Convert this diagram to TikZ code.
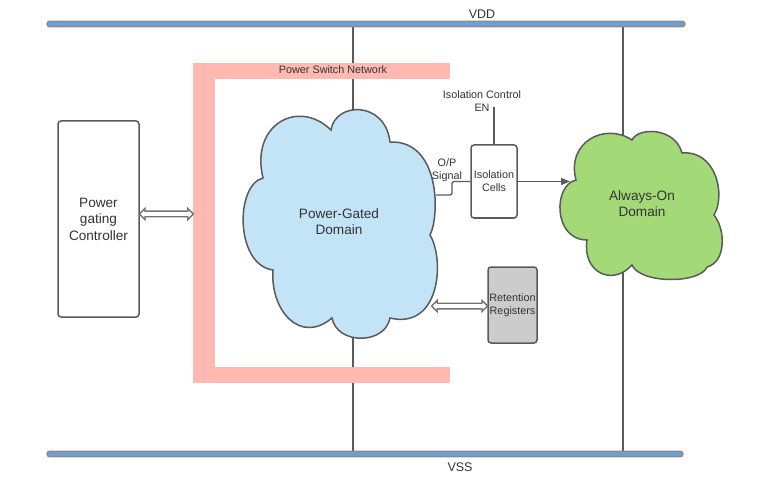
\documentclass[tikz,border=0pt]{standalone}
\usepackage{fontspec}
\setmainfont{Liberation Sans}
\usetikzlibrary{shapes.arrows,arrows.meta,calc}
\definecolor{wirec}{HTML}{5A5A5A}
\definecolor{railfill}{HTML}{6E9FD4}
\definecolor{railedge}{HTML}{8A8A8A}
\definecolor{pinkc}{HTML}{FFB9B1}
\definecolor{bluec}{HTML}{C3E3F6}
\definecolor{greenc}{HTML}{A3D977}
\definecolor{grayc}{HTML}{CCCCCC}
\definecolor{txtc}{HTML}{333333}
\newcommand\fntbig{\fontsize{13.6}{16.4}\selectfont}
\newcommand\fntmid{\fontsize{12.5}{15}\selectfont}
\newcommand\fntsmall{\fontsize{10.8}{13.2}\selectfont}
\pgfdeclarelayer{bg}
\pgfsetlayers{bg,main}
\begin{document}
\begin{tikzpicture}[x=1pt,y=-1pt,
  wire/.style={draw=wirec, line width=1.3pt},
  boxst/.style={draw=wirec, line width=1.5pt, rounded corners=3pt, fill=white, text=txtc, align=center, inner sep=0pt},
  cloudline/.style={draw=wirec, line width=1.5pt},
  dbl/.style={double arrow, draw=wirec!85, fill=white, line width=1.3pt, inner xsep=0pt, inner ysep=2.2pt, minimum width=0pt, double arrow head extend=2.8pt, double arrow head indent=0pt},
  lbl/.style={text=txtc, align=center, inner sep=0pt},
  rail/.style={draw=railedge, fill=railfill, line width=1.2pt, rounded corners=2.5pt, minimum height=5.5pt, inner sep=0pt}]
\useasboundingbox (0,0) rectangle (768,481);

% rails
\node[rail, minimum width=638pt] (vdd) at (366,24) {};
\node[rail, minimum width=636pt] (vss) at (365,454) {};
\node[lbl, font=\fntmid] (vddl) at (482,14) {VDD};
\node[lbl, font=\fntmid] (vssl) at (460,467) {VSS};

\coordinate (cx1) at (353,240);
\coordinate (cx2) at (623,240);

\begin{pgfonlayer}{bg}
  \draw[wire] (vdd.center -| cx1) -- (vss.center -| cx1);
  \draw[wire] (vdd.center -| cx2) -- (vss.center -| cx2);
  % power-gated domain cloud
  \draw[cloudline, fill=bluec] (263,178) .. controls (250,125) and (298,98) .. (331,130)
    .. controls (335,102) and (385,100) .. (390,142)
    .. controls (440,140) and (440,215) .. (430,235)
    .. controls (445,260) and (440,330) .. (390,318)
    .. controls (385,345) and (337,345) .. (332,318)
    .. controls (300,345) and (270,310) .. (273,270)
    .. controls (235,265) and (235,185) .. (263,178) -- cycle;
  % always-on domain cloud
  \draw[cloudline, fill=greenc] (576,180) .. controls (566,142) and (605,122) .. (632,140)
    .. controls (638,127) and (675,127) .. (682,153)
    .. controls (716,150) and (726,195) .. (714,215)
    .. controls (726,230) and (726,262) .. (707,267)
    .. controls (700,284) and (640,284) .. (632,265)
    .. controls (612,287) and (582,272) .. (587,240)
    .. controls (553,240) and (553,185) .. (576,180) -- cycle;
  % power switch network
  \fill[pinkc] (193,63) rectangle (450,79);
  \fill[pinkc] (193,63) rectangle (215,383);
  \fill[pinkc] (193,367) rectangle (450,383);
\end{pgfonlayer}

\node[lbl, font=\fntsmall] (psn) at (333,70) {Power Switch Network};
\node[lbl, font=\fntbig] (pgd) at (339,221.5) {Power-Gated\\Domain};
\node[lbl, font=\fntbig] (aod) at (642,203.5) {Always-On\\Domain};

% boxes
\node[boxst, font=\fntbig, minimum width=81pt, minimum height=196pt] (pgc) at (98.5,219) {Power\\gating\\Controller};
\node[boxst, font=\fntsmall, minimum width=46pt, minimum height=73pt] (iso) at (494,181.5) {Isolation\\Cells};
\node[boxst, font=\fntsmall, fill=grayc, minimum width=49pt, minimum height=76pt] (ret) at (512.5,305) {Retention\\Registers};

% labels
\node[lbl, font=\fntsmall] (isoctl) at (482,101) {Isolation Control\\EN};
\node[lbl, font=\fntsmall] (ops) at (447,170) {O/P\\Signal};

% connectors
\coordinate (en) at (494,107);
\draw[wire] (iso.north) -- (iso.north |- en);
\coordinate (pgdop) at (436,195);
\draw[wire, rounded corners=2pt] (pgdop) -- ++(16,0) |- (iso.west);
\coordinate (aodin) at (570,182);
\draw[wire, -{Triangle[length=9pt,width=7pt]}] (iso.east) -- (iso.east -| aodin);

\coordinate (pgcr) at ($(pgc.east)+(0,-5)$);
\coordinate (psnleft) at (193,214);
\node[dbl, minimum height=54pt] (arr1) at ($(pgcr)!0.5!(psnleft)$) {};
\coordinate (pgdret) at (432,306);
\node[dbl, minimum height=56pt] (arr2) at ($(pgdret)!0.5!(ret.west |- pgdret)$) {};
\end{tikzpicture}
\end{document}
